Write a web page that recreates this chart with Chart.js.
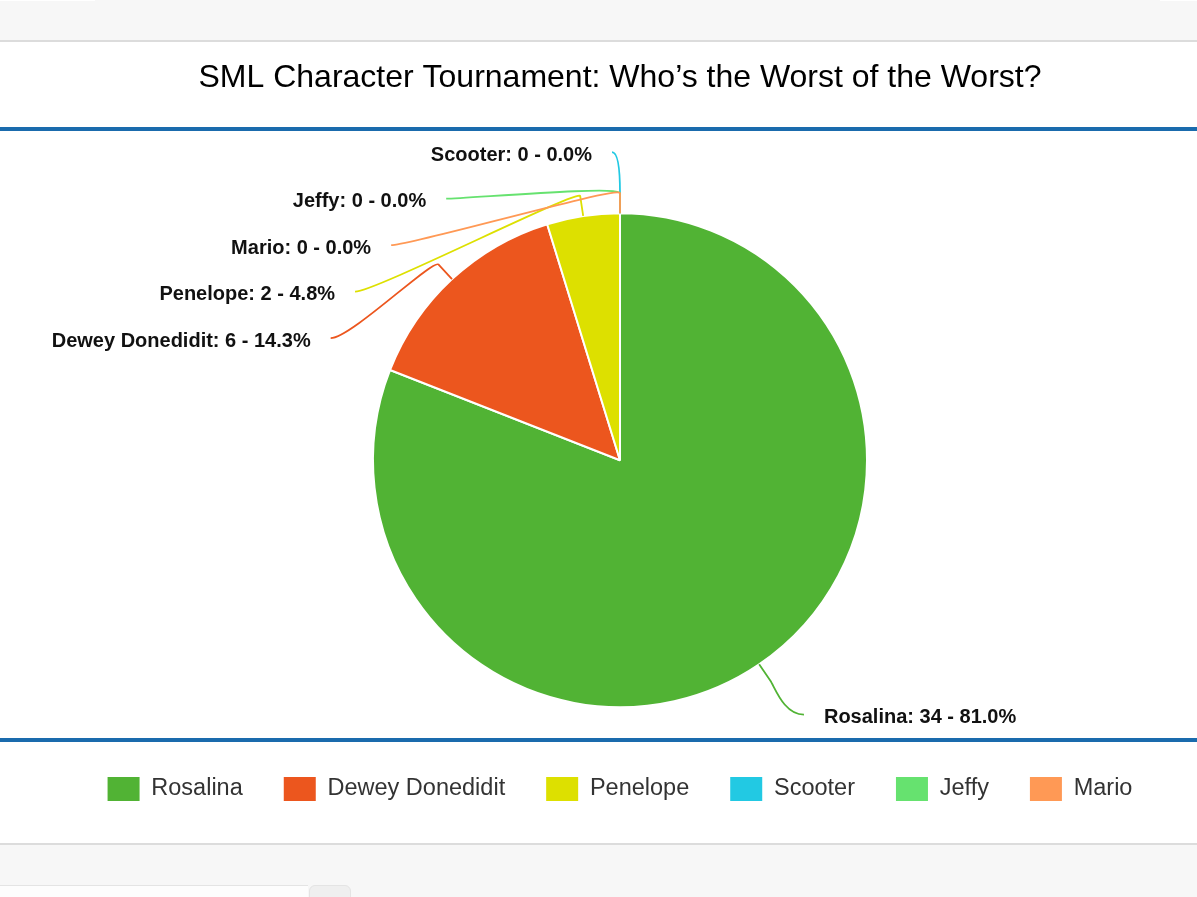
<!DOCTYPE html>
<html>
<head>
<meta charset="utf-8">
<script src="https://cdn.jsdelivr.net/npm/chart.js@4.4.1/dist/chart.umd.min.js"></script>
<style>
  html, body { margin: 0; padding: 0; }
  body { width: 1197px; height: 897px; background: #f7f7f7; overflow: hidden; position: relative; font-family: "Liberation Sans", Arial, sans-serif; }
  .topedge-l { position: absolute; top: 0; left: 0; width: 95px; height: 1px; background: #fff; }
  .topedge-r { position: absolute; top: 0; left: 1160px; width: 37px; height: 1px; background: #fff; }
  .panel { position: absolute; top: 40px; left: 0; width: 1197px; height: 801px; background: #fff; border-top: 2px solid #dcdcdc; border-bottom: 2px solid #dcdcdc; }
  .wrap { position: absolute; top: 0; left: 0; width: 1197px; height: 801px; }
  .foot-box { position: absolute; top: 885px; left: 0; width: 308px; height: 20px; background: #fdfdfd; border-top: 1px solid #e4e4e4; }
  .foot-btn { position: absolute; top: 885px; left: 309px; width: 40px; height: 20px; background: #efefef; border: 1px solid #e4e4e4; border-radius: 6px 6px 0 0; }
</style>
</head>
<body>
<div class="topedge-l"></div>
<div class="topedge-r"></div>
<div class="panel">
  <div class="wrap"><canvas id="pie-chart"></canvas></div>
</div>
<div class="foot-box"></div>
<div class="foot-btn"></div>
<script>
// Dados do gráfico
var categories = ['Rosalina', 'Dewey Donedidit', 'Penelope', 'Scooter', 'Jeffy', 'Mario'];
var votes = [34, 6, 2, 0, 0, 0];
var sliceColors = ['#51b334', '#ec561e', '#dde000', '#22c9e3', '#66e26f', '#ff9955'];
var chartTitle = 'SML Character Tournament: Who\u2019s the Worst of the Worst?';

var fontFamily = '"Liberation Sans", Arial, sans-serif';

// Linhas azuis acima e abaixo da área do gráfico
var blueLines = {
    id: 'blueLines',
    afterDraw: function(chart) {
        var ctx = chart.ctx;
        ctx.save();
        ctx.fillStyle = '#1a6bad';
        ctx.fillRect(0, 85, chart.width, 4);
        ctx.fillRect(0, 696, chart.width, 4);
        ctx.restore();
    }
};

// Rótulos com linhas de ligação
var pieLabels = {
    id: 'pieLabels',
    afterDatasetsDraw: function(chart) {
        var ctx = chart.ctx;
        var meta = chart.getDatasetMeta(0);
        var values = chart.data.datasets[0].data;
        var total = values.reduce(function(a, b) { return a + b; }, 0);
        var items = [];
        meta.data.forEach(function(arc, i) {
            var p = arc.getProps(['x', 'y', 'startAngle', 'endAngle', 'outerRadius'], true);
            var mid = (p.startAngle + p.endAngle) / 2;
            var side = Math.cos(mid) <= 1e-6 ? -1 : 1;
            items.push({
                i: i, cx: p.x, cy: p.y, r: p.outerRadius, mid: mid, side: side,
                y: p.y + Math.sin(mid) * (p.outerRadius + 61),
                text: categories[i] + ': ' + values[i] + ' - ' + (values[i] / total * 100).toFixed(1) + '%'
            });
        });
        items.forEach(function(it) { it.natural = it.y; });

        // empilhar rótulos de cada lado para não se sobreporem
        [-1, 1].forEach(function(side) {
            var group = items.filter(function(it) { return it.side === side; });
            group.sort(function(a, b) { return (a.natural - b.natural) || (a.i - b.i); });
            for (var k = 1; k < group.length; k++) {
                group[k].y = Math.max(group[k].natural, group[k - 1].y + 46.5);
            }
        });

        ctx.save();
        ctx.lineWidth = 1.8;
        items.forEach(function(it) {
            var rx = it.r + 67;
            var dy = it.y - it.cy;
            var dx;
            if (it.y === it.natural && Math.abs(dy) > 0.9 * rx) {
                dx = Math.max(8, Math.abs(Math.cos(it.mid)) * rx);
            } else {
                dx = Math.sqrt(Math.max(0, rx * rx - dy * dy));
            }
            var ex = it.cx + it.side * dx;
            var ey = it.y;
            var c = Math.cos(it.mid), s = Math.sin(it.mid);
            var sx = it.cx + c * it.r, sy = it.cy + s * it.r;
            var bx = it.cx + c * (it.r + 20), by = it.cy + s * (it.r + 20);
            var off = Math.min(20, Math.abs(ex - bx));
            ctx.strokeStyle = sliceColors[it.i];
            ctx.beginPath();
            ctx.moveTo(sx, sy);
            ctx.lineTo(bx, by);
            ctx.bezierCurveTo(bx + c * 8, by + s * 8, ex - it.side * off, ey, ex, ey);
            ctx.stroke();

            ctx.fillStyle = '#111';
            ctx.font = 'bold 20px ' + fontFamily;
            ctx.textBaseline = 'middle';
            ctx.textAlign = it.side < 0 ? 'right' : 'left';
            ctx.fillText(it.text, ex + it.side * 20, ey + 3);
        });
        ctx.restore();
    }
};

var ctx = document.getElementById('pie-chart').getContext('2d');
var pieChart = new Chart(ctx, {
    type: 'pie',
    data: {
        labels: categories,
        datasets: [{
            data: votes,
            backgroundColor: sliceColors,
            borderColor: '#ffffff',
            borderWidth: 2,
            radius: 247
        }]
    },
    options: {
        responsive: true,
        maintainAspectRatio: false,
        animation: false,
        layout: { padding: { left: 43, right: 0, top: 0, bottom: 32 } },
        plugins: {
            title: {
                display: true,
                text: chartTitle,
                color: '#000',
                font: { family: fontFamily, size: 32, weight: 'normal' },
                padding: { top: 17, bottom: 87 }
            },
            legend: {
                position: 'bottom',
                labels: {
                    boxWidth: 32,
                    boxHeight: 24,
                    padding: 41,
                    color: '#333',
                    font: { family: fontFamily, size: 23.5 },
                    generateLabels: function(chart) {
                        var list = Chart.overrides.pie.plugins.legend.labels.generateLabels(chart);
                        list.forEach(function(item) { item.lineWidth = 0; });
                        return list;
                    }
                }
            },
            tooltip: { enabled: false }
        }
    },
    plugins: [pieLabels, blueLines]
});
</script>
</body>
</html>
